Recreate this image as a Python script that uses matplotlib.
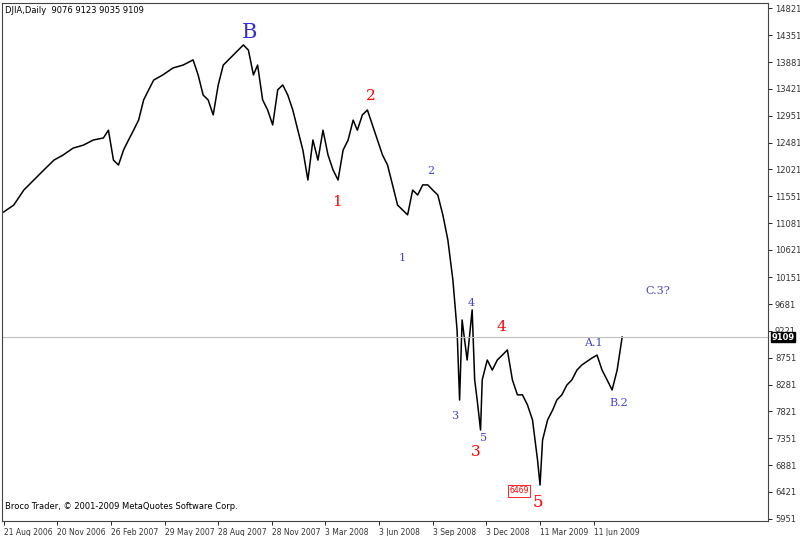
import matplotlib.pyplot as plt

# bar index (trading days from 21 Aug 2006) and close
day = [0, 12, 24, 36, 48, 60, 71, 83, 95, 107, 119, 125, 131, 137, 143, 149, 155, 161,
       167, 173, 179, 190, 202, 214, 226, 232, 238, 244, 250, 256, 262, 274, 286, 292,
       298, 303, 309, 315, 321, 327, 333, 339, 345, 351, 357, 363, 369, 375, 381, 387,
       393, 399, 405, 411, 417, 422, 428, 434, 440, 446, 452, 458, 464, 470, 476, 482,
       488, 494, 500, 506, 512, 518, 524, 530, 536, 541, 544, 547, 553, 559, 562, 565,
       569, 571, 577, 583, 589, 595, 601, 607, 613, 619, 625, 631, 637, 640, 643, 649,
       655, 660, 666, 672, 678, 684, 690, 702, 708, 714, 720, 726, 732, 738]
close = [11280, 11400, 11660, 11835, 12010, 12180, 12270, 12390, 12440, 12530, 12565,
         12700, 12180, 12095, 12355, 12530, 12700, 12875, 13225, 13400, 13570, 13660,
         13780, 13830, 13920, 13660, 13310, 13225, 12965, 13485, 13830, 14005, 14180,
         14090, 13660, 13830, 13225, 13050, 12790, 13400, 13485, 13310, 13050, 12700,
         12355, 11835, 12530, 12180, 12700, 12270, 12010, 11835, 12355, 12530, 12875,
         12700, 12965, 13050, 12790, 12530, 12270, 12095, 11750, 11400, 11315, 11230,
         11660, 11575, 11750, 11750, 11660, 11575, 11230, 10795, 10100, 9230, 8015,
         9405, 8710, 9580, 8365, 8015, 7495, 8365, 8710, 8535, 8710, 8795, 8885, 8365,
         8105, 8105, 7930, 7670, 6975, 6540, 7320, 7670, 7840, 8015, 8105, 8275, 8365,
         8535, 8625, 8745, 8795, 8535, 8365, 8190, 8535, 9109]

yticks = [14821, 14351, 13881, 13421, 12951, 12481, 12021, 11551, 11081, 10621, 10151,
          9681, 9221, 8751, 8281, 7821, 7351, 6881, 6421, 5951]
xtick_pos = [0, 64, 128, 192, 256, 320, 384, 448, 512, 576, 640, 704]
xtick_labels = ["21 Aug 2006", "20 Nov 2006", "26 Feb 2007", "29 May 2007", "28 Aug 2007",
                "28 Nov 2007", "3 Mar 2008", "3 Jun 2008", "3 Sep 2008", "3 Dec 2008",
                "11 Mar 2009", "11 Jun 2009"]
last_price = 9109

# wave labels: (text, day, price, colour, size)
waves = [("B", 293, 14404, "#3333cc", 15),
         ("2", 438, 13293, "red", 11), ("1", 398, 11453, "red", 11),
         ("2", 510, 11991, "#4444cc", 8), ("1", 475, 10481, "#4444cc", 8),
         ("4", 558, 9700, "#4444cc", 8), ("4", 594, 9283, "red", 11),
         ("3", 538, 7738, "#4444cc", 8), ("5", 573, 7356, "#4444cc", 8),
         ("3", 563, 7113, "red", 11), ("5", 637, 6228, "red", 12),
         ("A.1", 704, 9005, "#4444cc", 8), ("B.2", 734, 7964, "#4444cc", 8),
         ("C.3?", 780, 9908, "#4444cc", 8)]

fig = plt.figure(figsize=(8, 5.36), dpi=100)
ax = fig.add_axes([2 / 800, 15 / 536, 766 / 800, 518 / 536])
ax.plot(day, close, color="black", lw=1.1)
ax.axhline(last_price, color="#c0c0c0", lw=0.8)

ax.set_xlim(-2, 912)
ax.set_ylim(5915, 14908)
ax.yaxis.tick_right()
ax.set_yticks(yticks)
ax.set_yticklabels([str(v) for v in yticks], fontsize=6, color="#333333")
ax.set_xticks(xtick_pos)
ax.set_xticklabels(xtick_labels, fontsize=5.5, color="#333333", ha="left")
ax.tick_params(length=3, width=0.6, pad=2)
for s in ax.spines.values():
    s.set_linewidth(0.8)
    s.set_color("#444444")

for txt, d, p, c, sz in waves:
    ax.text(d, p, txt, color=c, fontsize=sz, family="serif", ha="center", va="center")

ax.text(615, 6436, "6469", color="red", fontsize=5.5, ha="center", va="center",
        bbox=dict(boxstyle="square,pad=0.15", fc="white", ec="red", lw=0.6))
ax.text(916, last_price, str(last_price), color="white", fontsize=6, ha="left",
        va="center", fontweight="bold", clip_on=False, zorder=5,
        bbox=dict(boxstyle="square,pad=0.1", fc="black", ec="black"))
ax.text(0.004, 0.995, "DJIA,Daily  9076 9123 9035 9109", transform=ax.transAxes,
        fontsize=6, va="top", ha="left")
ax.text(0.004, 0.02, "Broco Trader, \u00a9 2001-2009 MetaQuotes Software Corp.",
        transform=ax.transAxes, fontsize=6, va="bottom", ha="left")

fig.savefig("out.png", dpi=100)
